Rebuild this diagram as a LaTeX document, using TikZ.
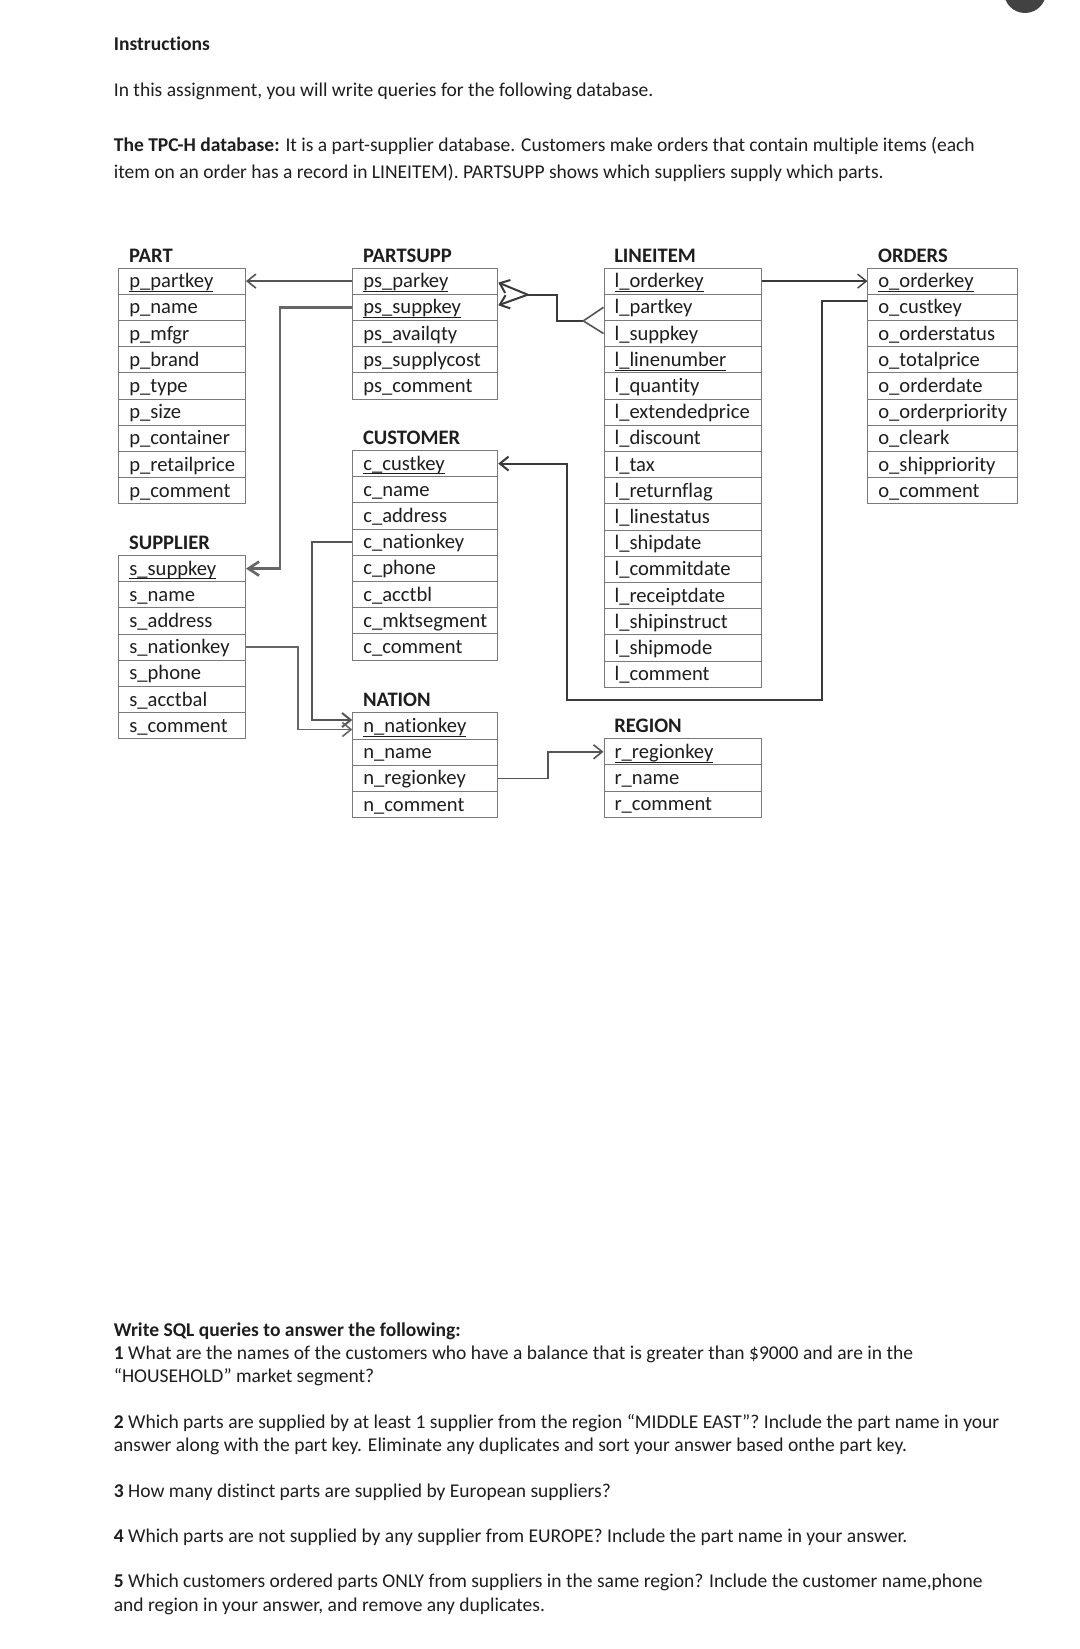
\documentclass[tikz,border=0pt]{standalone}
\usepackage{fontspec}
\setmainfont{Carlito}[Ligatures=NoCommon]
\usetikzlibrary{arrows.meta,calc}
\definecolor{ink}{HTML}{1E1E1E}
\definecolor{grid}{HTML}{7A7A7A}
\definecolor{wire}{HTML}{3A3A3A}
\definecolor{wiremid}{HTML}{555555}
\definecolor{wirelight}{HTML}{666666}
\definecolor{dot}{HTML}{424242}
\newcommand\tabfont{\fontsize{15.45pt}{18pt}\selectfont}
\newcommand\bodyfont{\fontsize{14.65pt}{17.5pt}\selectfont}
\newcommand\keyfield[1]{\setbox0=\hbox{#1}\rlap{\rule[-3.2pt]{\wd0}{0.7pt}}\box0}
\tikzset{
  rowbox/.style={draw=grid, line width=0.75pt, rectangle, anchor=north west,
    inner xsep=7.9pt, inner ysep=0pt, text height=14.7pt, text depth=4.95pt,
    minimum height=19.65pt, align=left, font=\tabfont, text=ink},
  ttl/.style={anchor=base west, inner sep=0pt, font=\tabfont\bfseries, text=ink},
  body/.style={anchor=base west, inner sep=0pt, font=\bodyfont, text=ink},
  barb/.style={-{Straight Barb[length=6.5pt,width=10.5pt]}},
  thinwire/.style={draw=wire, line width=1.0pt},
  midwire/.style={draw=wiremid, line width=1.2pt},
  boldwire/.style={draw=wire, line width=1.5pt},
  heavywire/.style={draw=wirelight, line width=2pt},
}
\newcommand\dbtable[6]{%
  \node[ttl] (#1-title) at (#2+10.5, #3-5.5) {#5};
  \foreach \t [count=\i] in {#6} {
    \node[rowbox, text width=#4] (#1-\i) at (#2, {#3+(\i-1)*26.2}) {\mbox{\t}};
  }
}
\begin{document}
\begin{tikzpicture}[x=0.75pt,y=-0.75pt]
\fill[white] (0,0) rectangle (1080,1649);
\useasboundingbox (0,0) rectangle (1080,1649);
\fill[dot] (1025,-8) circle[radius=15.75pt];

% ---------- text ----------
\node[body, font=\bodyfont\bfseries] (t-instr) at (113.6,50) {Instructions};
\node[body] (t-intro) at (113.6,96) {In this assignment, you will write queries for the following database.};
\node[body] (t-tpc1) at (113.6,151) {\textbf{The TPC-H database:} It is a part-supplier database. Customers make orders that contain multiple items (each};
\node[body] (t-tpc2) at (113.6,178.5) {item on an order has a record in LINEITEM). PARTSUPP shows which suppliers supply which parts.};

\node[body, font=\bodyfont\bfseries] (q-head) at (113.6,1336) {Write SQL queries to answer the following:};
\node[body] (q1a) at (113.6,1359.5) {\textbf{1} What are the names of the customers who have a balance that is greater than \$9000 and are in the};
\node[body] (q1b) at (113.6,1382.5) {“HOUSEHOLD” market segment?};
\node[body] (q2a) at (113.6,1428) {\textbf{2} Which parts are supplied by at least 1 supplier from the region “MIDDLE EAST”? Include the part name in your};
\node[body] (q2b) at (113.6,1451) {answer along with the part key. Eliminate any duplicates and sort your answer based onthe part key.};
\node[body] (q3) at (113.6,1497) {\textbf{3} How many distinct parts are supplied by European suppliers?};
\node[body] (q4) at (113.6,1542) {\textbf{4} Which parts are not supplied by any supplier from EUROPE? Include the part name in your answer.};
\node[body] (q5a) at (113.6,1587.6) {\textbf{5} Which customers ordered parts ONLY from suppliers in the same region? Include the customer name,phone};
\node[body] (q5b) at (113.6,1611) {and region in your answer, and remove any duplicates.};

% ---------- tables ----------
\dbtable{part}{118.3}{267.5}{79.2pt}{PART}{{\keyfield{p\_partkey}},p\_name,p\_mfgr,p\_brand,p\_type,p\_size,p\_container,p\_retailprice,p\_comment}
\dbtable{ps}{352.3}{267.5}{92.95pt}{PARTSUPP}{{\keyfield{ps\_parkey}},{\keyfield{ps\_suppkey}},ps\_availqty,ps\_supplycost,ps\_comment}
\dbtable{cust}{352.3}{450}{92.95pt}{CUSTOMER}{{\keyfield{c\_custkey}},c\_name,c\_address,c\_nationkey,c\_phone,c\_acctbl,c\_mktsegment,c\_comment}
\dbtable{nat}{352.3}{712.4}{92.95pt}{NATION}{{\keyfield{n\_nationkey}},n\_name,n\_regionkey,n\_comment}
\dbtable{supp}{118.3}{555}{79.2pt}{SUPPLIER}{{\keyfield{s\_suppkey}},s\_name,s\_address,s\_nationkey,s\_phone,s\_acctbal,s\_comment}
\dbtable{li}{603.5}{267.5}{101.95pt}{LINEITEM}{{\keyfield{l\_orderkey}},l\_partkey,l\_suppkey,{\keyfield{l\_linenumber}},l\_quantity,l\_extendedprice,l\_discount,l\_tax,l\_returnflag,l\_linestatus,l\_shipdate,l\_commitdate,l\_receiptdate,l\_shipinstruct,l\_shipmode,l\_comment}
\dbtable{reg}{603.5}{738.2}{101.95pt}{REGION}{{\keyfield{r\_regionkey}},r\_name,r\_comment}
\dbtable{ord}{867.3}{267.5}{96.3pt}{ORDERS}{{\keyfield{o\_orderkey}},o\_custkey,o\_orderstatus,o\_totalprice,o\_orderdate,o\_orderpriority,o\_cleark,o\_shippriority,o\_comment}

% ---------- connectors ----------
% PARTSUPP -> PART
\draw[midwire, barb] (ps-1.west) -- (part-1.east);
% PARTSUPP -> SUPPLIER
\draw[heavywire, -{Straight Barb[length=8pt,width=10.5pt]}] (ps-2.west) -- ++(-72.3,0) |- (supp-1.east);
% LINEITEM -> PARTSUPP (crow's feet)
\coordinate (cf1) at ($(ps-1.south east)+(29.4,0)$);
\coordinate (cf2) at ($(li-2.south west)+(-20.2,0)$);
\draw[boldwire, barb] (cf1) -- ($(ps-1.east)+(0,1.5)$);
\draw[boldwire, barb] (cf1) -- ($(ps-2.east)+(0,-2)$);
\draw[boldwire] (cf1) -- ++(29.3,0) |- (cf2);
\draw[midwire] (li-2.west) -- (cf2) -- (li-3.west);
% LINEITEM -> ORDERS
\draw[thinwire, barb] (li-1.east) -- (ord-1.west);
% ORDERS -> CUSTOMER
\coordinate (r1) at (821.7,700);
\coordinate (r2) at (567,700);
\draw[boldwire, barb] ($(ord-2.west)+(0,-6)$) -| (r1) -- (r2) |- (cust-1.east);
% CUSTOMER -> NATION
\draw[boldwire, draw=wiremid, barb] (cust-4.west) -- ++(-40.6,0) |- ($(nat-1.west)+(0,-6)$);
% SUPPLIER -> NATION
\draw[midwire, draw=wirelight, barb] (supp-4.east) -- ++(52,0) |- ($(nat-1.west)+(0,3.5)$);
% NATION -> REGION
\draw[midwire, barb] (nat-3.east) -- ++(49.4,0) |- (reg-1.west);
\end{tikzpicture}
\end{document}
